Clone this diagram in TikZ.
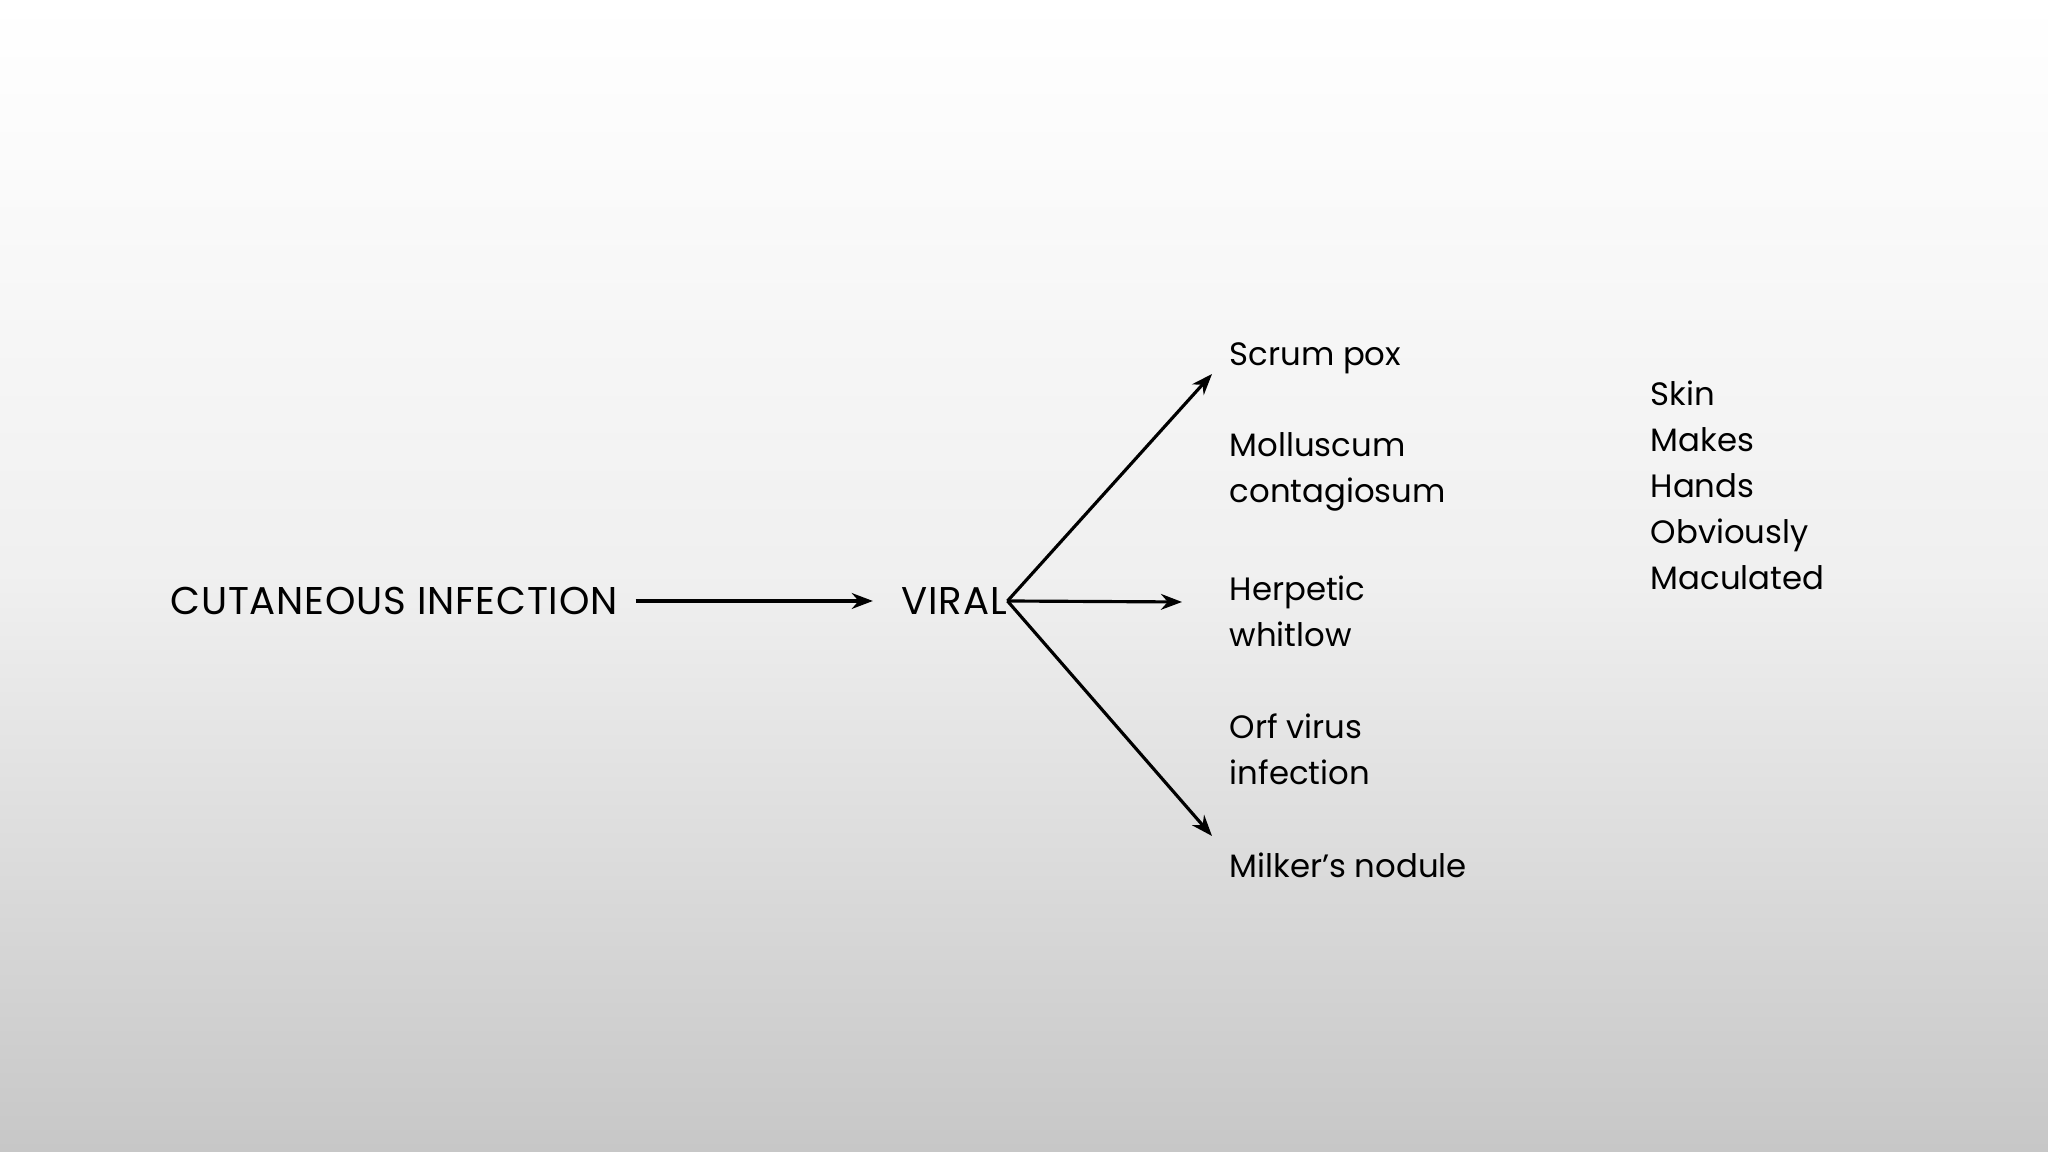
\documentclass[tikz,border=0pt]{standalone}
\usepackage{fontspec}
\setmainfont{Poppins}
\usetikzlibrary{arrows.meta}
\begin{document}
\begin{tikzpicture}[x=0.01cm, y=0.01cm]
  \tikzstyle{txt} = [inner sep=0pt, font=\fontsize{9.2}{13.1}\selectfont, align=left]
  \tikzstyle{big} = [inner sep=0pt, font=\fontsize{11}{13}\selectfont\addfontfeatures{LetterSpace=2}]
  \tikzstyle{arr} = [-{Stealth[length=6pt, width=4.5pt]}, line width=0.9pt]
\shade[top color=white, bottom color=black!22, middle color=black!6] (0,0) rectangle (2048,1152);
\useasboundingbox (0,0) rectangle (2048,1152);
\node[big, anchor=west](cut) at (170,551){CUTANEOUS INFECTION};
\node[big, anchor=west](viral) at (901,551){VIRAL};
\node[txt, anchor=west](scrum) at (1229,794){Scrum pox};
\node[txt, anchor=west](moll) at (1229,680){Molluscum\\contagiosum};
\node[txt, anchor=west](herp) at (1229,541){Herpetic\\whitlow};
\node[txt, anchor=west](orf) at (1229,403){Orf virus\\infection};
\node[txt, anchor=west](milk) at (1229,287){Milker's nodule};
\node[txt, anchor=west](smhom) at (1650,667){Skin\\Makes\\Hands\\Obviously\\Maculated};
\coordinate (up) at (1212,778);
\coordinate (mid) at (1182,550);
\coordinate (down) at (1212,316);
\draw[arr] ([xshift=5pt]cut.east) -- ([xshift=-8pt]viral.west);
\draw[arr] (viral.east) -- (up);
\draw[arr] (viral.east) -- (mid);
\draw[arr] (viral.east) -- (down);
\end{tikzpicture}
\end{document}
